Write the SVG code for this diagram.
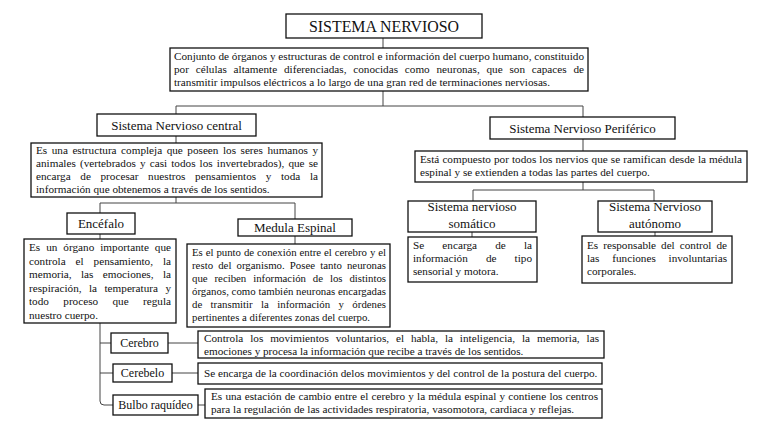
<svg xmlns="http://www.w3.org/2000/svg" width="768" height="433" viewBox="0 0 768 433">
<style>
.box{fill:#fff;stroke:#111;stroke-width:1.3}
.t{font-family:"Liberation Serif","Times New Roman",serif;fill:#111}
.d{font-size:11.2px}
.m{font-size:10.8px}
.h{font-size:13px;text-anchor:middle}
.c{fill:none;stroke:#444;stroke-width:1}
</style>
<rect width="768" height="433" fill="#fff"/>
<g id="connectors">
<path class="c" d="M383 38V48M383 91V106M176 106H583M176 106V114M583 106V117M176 136V143M583 139V151"/>
<path class="c" d="M176 197V203M100 203H295M100 203V213M295 203V219M100 234V239M295 236V244"/>
<path class="c" d="M583 182V190M473 190H654M473 190V201M654 190V201M472 232V237M655 232V236"/>
<path class="c" d="M100 323V401Q100 405 104 405H113M100 343H111M100 373H113M168 343H198M172 373H198M198 405H205"/>
</g>
<g id="title">
<rect class="box" x="286" y="14" width="196" height="24"/>
<text class="t" x="384" y="32" font-size="16" text-anchor="middle" textLength="150" lengthAdjust="spacingAndGlyphs">SISTEMA NERVIOSO</text>
</g>
<g id="desc-main">
<rect class="box" x="170" y="48" width="418" height="43"/>
<text class="t d" x="174" y="60" textLength="410" lengthAdjust="spacing">Conjunto de órganos y estructuras de control e información del cuerpo humano, constituido</text>
<text class="t d" x="174" y="73" word-spacing="4" textLength="410" lengthAdjust="spacing">por células altamente diferenciadas, conocidas como neuronas, que son capaces de</text>
<text class="t d" x="174" y="86">transmitir impulsos eléctricos a lo largo de una gran red de terminaciones nerviosas.</text>
</g>
<g id="snc">
<rect class="box" x="97" y="114" width="159" height="22"/>
<text class="t h" x="176.5" y="130">Sistema Nervioso central</text>
</g>
<g id="snc-desc">
<rect class="box" x="31" y="143" width="291" height="54"/>
<text class="t d" x="36" y="154" word-spacing="1.7" textLength="282" lengthAdjust="spacing">Es una estructura compleja que poseen los seres humanos y</text>
<text class="t d" x="36" y="167" word-spacing="1.3" textLength="282" lengthAdjust="spacing">animales (vertebrados y casi todos los invertebrados), que se</text>
<text class="t d" x="36" y="180" word-spacing="6.8" textLength="282" lengthAdjust="spacing">encarga de procesar nuestros pensamientos y toda la</text>
<text class="t d" x="36" y="193">información que obtenemos a través de los sentidos.</text>
</g>
<g id="encefalo">
<rect class="box" x="67" y="213" width="68" height="21"/>
<text class="t h" x="101" y="228">Encéfalo</text>
</g>
<g id="encefalo-desc">
<rect class="box" x="24" y="239" width="152" height="84"/>
<text class="t d" x="29" y="251" word-spacing="3.1" textLength="142" lengthAdjust="spacing">Es un órgano importante que</text>
<text class="t d" x="29" y="264.5" word-spacing="7.1" textLength="142" lengthAdjust="spacing">controla el pensamiento, la</text>
<text class="t d" x="29" y="278" word-spacing="6.6" textLength="142" lengthAdjust="spacing">memoria, las emociones, la</text>
<text class="t d" x="29" y="291.5" word-spacing="4.6" textLength="142" lengthAdjust="spacing">respiración, la temperatura y</text>
<text class="t d" x="29" y="305" word-spacing="11.6" textLength="142" lengthAdjust="spacing">todo proceso que regula</text>
<text class="t d" x="29" y="318.5">nuestro cuerpo.</text>
</g>
<g id="medula">
<rect class="box" x="238" y="219" width="114" height="17"/>
<text class="t h" x="295" y="232" font-size="13.5">Medula Espinal</text>
</g>
<g id="medula-desc">
<rect class="box" x="187" y="244" width="203" height="83"/>
<text class="t m" x="192" y="256" word-spacing="0.2" textLength="194" lengthAdjust="spacing">Es el punto de conexión entre el cerebro y el</text>
<text class="t m" x="192" y="269" word-spacing="2.4" textLength="194" lengthAdjust="spacing">resto del organismo. Posee tanto neuronas</text>
<text class="t m" x="192" y="282" word-spacing="4.2" textLength="194" lengthAdjust="spacing">que reciben información de los distintos</text>
<text class="t m" x="192" y="295" textLength="194" lengthAdjust="spacing">órganos, como también neuronas encargadas</text>
<text class="t m" x="192" y="308" word-spacing="5.7" textLength="194" lengthAdjust="spacing">de transmitir la información y órdenes</text>
<text class="t m" x="192" y="321">pertinentes a diferentes zonas del cuerpo.</text>
</g>
<g id="snp">
<rect class="box" x="490" y="117" width="185" height="22"/>
<text class="t h" x="582.5" y="133">Sistema Nervioso Periférico</text>
</g>
<g id="snp-desc">
<rect class="box" x="415" y="151" width="332" height="31"/>
<text class="t d" x="420" y="163" word-spacing="0.3" textLength="322" lengthAdjust="spacing">Está compuesto por todos los nervios que se ramifican desde la médula</text>
<text class="t d" x="420" y="176">espinal y se extienden a todas las partes del cuerpo.</text>
</g>
<g id="somatico">
<rect class="box" x="408" y="201" width="128" height="31"/>
<text class="t h" x="472" y="211">Sistema nervioso</text>
<text class="t h" x="472" y="228">somático</text>
</g>
<g id="somatico-desc">
<rect class="box" x="408" y="237" width="129" height="45"/>
<text class="t d" x="413" y="249" word-spacing="15.3" textLength="119" lengthAdjust="spacing">Se encarga de la</text>
<text class="t d" x="413" y="262" word-spacing="15.3" textLength="119" lengthAdjust="spacing">información de tipo</text>
<text class="t d" x="413" y="275">sensorial y motora.</text>
</g>
<g id="autonomo">
<rect class="box" x="598" y="201" width="114" height="31"/>
<text class="t h" x="655" y="211">Sistema Nervioso</text>
<text class="t h" x="655" y="228">autónomo</text>
</g>
<g id="autonomo-desc">
<rect class="box" x="582" y="236" width="150" height="47"/>
<text class="t d" x="587" y="249" word-spacing="2.2" textLength="140" lengthAdjust="spacing">Es responsable del control de</text>
<text class="t d" x="587" y="262" word-spacing="10" textLength="140" lengthAdjust="spacing">las funciones involuntarias</text>
<text class="t d" x="587" y="275">corporales.</text>
</g>
<g id="cerebro">
<rect class="box" x="111" y="333" width="57" height="20"/>
<text class="t" x="139.5" y="347" font-size="12" text-anchor="middle">Cerebro</text>
</g>
<g id="cerebro-desc">
<rect class="box" x="198" y="331" width="406" height="27"/>
<text class="t d" x="204" y="342" word-spacing="4" textLength="395" lengthAdjust="spacing">Controla los movimientos voluntarios, el habla, la inteligencia, la memoria, las</text>
<text class="t d" x="204" y="355">emociones y procesa la información que recibe a través de los sentidos.</text>
</g>
<g id="cerebelo">
<rect class="box" x="113" y="364" width="59" height="18"/>
<text class="t" x="142.5" y="377" font-size="12" text-anchor="middle">Cerebelo</text>
</g>
<g id="cerebelo-desc">
<rect class="box" x="198" y="363" width="404" height="21"/>
<text class="t d" x="204" y="377">Se encarga de la coordinación delos movimientos y del control de la postura del cuerpo.</text>
</g>
<g id="bulbo">
<rect class="box" x="113" y="395" width="85" height="20"/>
<text class="t" x="155.5" y="409" font-size="12" text-anchor="middle">Bulbo raquídeo</text>
</g>
<g id="bulbo-desc">
<rect class="box" x="205" y="389" width="397" height="29"/>
<text class="t d" x="211" y="400" word-spacing="0.4" textLength="387" lengthAdjust="spacing">Es una estación de cambio entre el cerebro y la médula espinal y contiene los centros</text>
<text class="t d" x="211" y="413">para la regulación de las actividades respiratoria, vasomotora, cardiaca y reflejas.</text>
</g>
</svg>
